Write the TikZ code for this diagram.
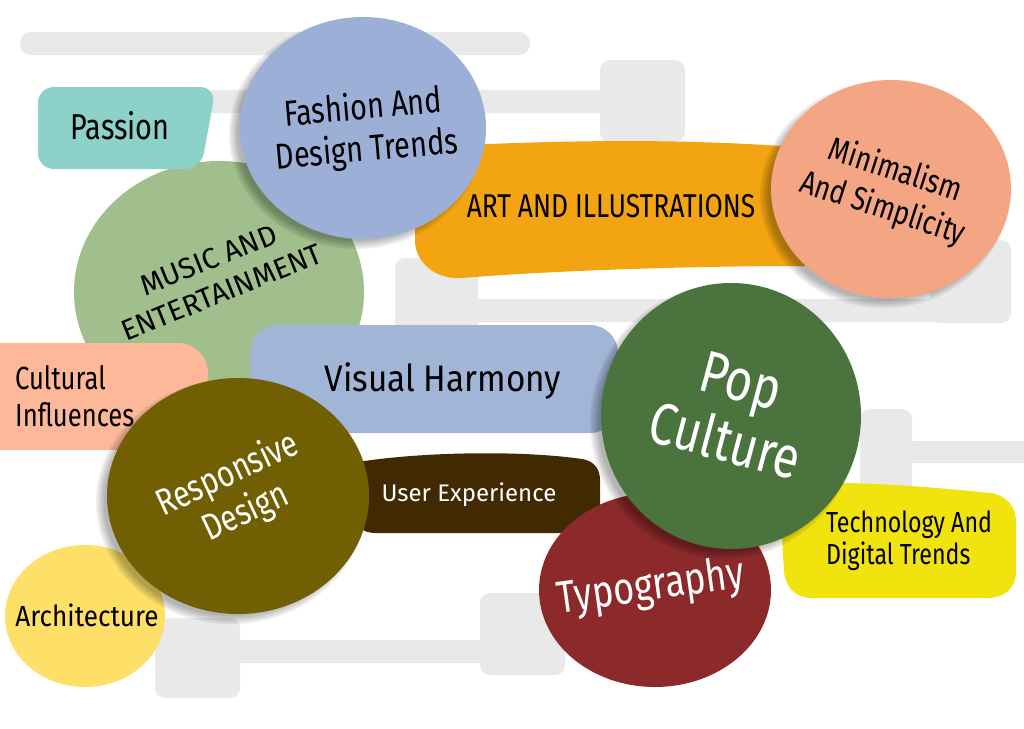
\documentclass[tikz,border=0pt]{standalone}
\usepackage{fontspec}
\setmainfont{Fira Sans}
\newfontfamily\fcond{Fira Sans}[FakeStretch=0.8]
\newfontfamily\fsemi{Fira Sans}[FakeStretch=0.9]
\usetikzlibrary{shapes.geometric}
\definecolor{bggrey}{HTML}{E9E9E9}
\definecolor{cpassion}{HTML}{8CD2CA}
\definecolor{cfashion}{HTML}{9CB0D7}
\definecolor{cmusic}{HTML}{A0BF8C}
\definecolor{cart}{HTML}{F2A412}
\definecolor{cmini}{HTML}{F3A584}
\definecolor{ccult}{HTML}{FDB899}
\definecolor{cvh}{HTML}{A1B5D7}
\definecolor{cpop}{HTML}{4A733E}
\definecolor{cresp}{HTML}{715F04}
\definecolor{cux}{HTML}{412A01}
\definecolor{carch}{HTML}{FEE068}
\definecolor{ctypo}{HTML}{8B292B}
\definecolor{ctech}{HTML}{F1E30E}
\tikzset{
  greybox/.style={fill=bggrey, rounded corners=10pt},
  greybar/.style={fill=bggrey, rounded corners=11pt},
  oval/.style={ellipse, inner sep=0pt, draw=none},
  shadowlayer/.style={fill=black, opacity=0.065},
  lbl/.style={inner sep=0pt, align=center, text=black},
  wlbl/.style={inner sep=0pt, align=center, text=white},
}
% soft shadow: centre x, centre y, radius x, radius y
\newcommand\softshadow[4]{%
  \foreach \d in {-4,-2,0,2,4}{%
    \path[shadowlayer] (#1-7,#2+6) ellipse ({#3+\d} and {#4+\d});
  }%
}
\begin{document}
\begin{tikzpicture}[x=1pt,y=-1pt]
\useasboundingbox (0,0) rectangle (1024,728);
\fill[white] (0,0) rectangle (1024,728);
\begin{scope}
\clip (0,0) rectangle (1024,728);
% background grey structure
\path[greybar] (20,32) rectangle (530,55);
\path[greybar] (60,90) rectangle (620,113);
\path[greybox] (600,60) rectangle (685,142);
\path[greybox] (395,258) rectangle (478,345);
\path[greybar] (460,299) rectangle (1000,322);
\path[greybox] (930,240) rectangle (1011,323);
\path[greybox] (860,409) rectangle (912,495);
\path[greybar] (900,441) rectangle (1040,463);
\path[greybox] (155,618) rectangle (240,698);
\path[greybar] (230,640) rectangle (490,663);
\path[greybox] (480,593) rectangle (565,675);

% Music and entertainment
\node[oval, fill=cmusic, minimum width=290pt, minimum height=262pt] (music) at (219,292) {};
\node[lbl, rotate=22, font=\fontsize{29}{35}\selectfont] (musicT) at (215,276) {MUSIC AND\\ENTERTAINMENT};

% Passion
\path[fill=cpassion, rounded corners=16pt] (38,87) -- (216,87) -- (201,169) -- (38,169) -- cycle;
\node[lbl, font=\fcond\fontsize{36}{42}\selectfont] (passionT) at (120,126) {Passion};

% Art and illustrations
\path[fill=cart] (415,190) .. controls (415,160) and (430,147) .. (465,145)
  .. controls (600,139) and (700,140) .. (795,147) -- (805,266)
  .. controls (700,266) and (560,270) .. (462,278)
  .. controls (435,280) and (415,262) .. (415,240) -- cycle;
\node[lbl, font=\fcond\fontsize{33}{38}\selectfont] (artT) at (611,206) {ART AND ILLUSTRATIONS};

% Fashion
\softshadow{363}{128}{123}{111}
\node[oval, fill=cfashion, minimum width=246pt, minimum height=222pt] (fashion) at (363,128) {};
\node[lbl, rotate=5, font=\fcond\fontsize{36}{42}\selectfont] (fashionT) at (365,130) {Fashion And\\Design Trends};

% Minimalism
\softshadow{891}{189}{120}{109}
\node[oval, fill=cmini, minimum width=240pt, minimum height=218pt] (mini) at (891,189) {};
\node[lbl, rotate=-18, font=\fcond\fontsize{33}{40}\selectfont] (miniT) at (889,190) {Minimalism\\And Simplicity};

% Cultural influences
\path[fill=ccult, rounded corners=30pt] (-40,343) -- (208,343) -- (208,450) -- (-40,450) -- cycle;
\node[lbl, align=left, anchor=west, font=\fcond\fontsize{32}{37}\selectfont] (cultT) at (15,396) {Cultural\\Influences};

% Visual harmony
\path[fill=cvh, rounded corners=28pt] (250,325) rectangle (618,433);
\node[lbl, font=\fsemi\fontsize{37}{42}\selectfont] (vhT) at (443,381) {Visual Harmony};

% User experience
\path[fill=cux] (358,462) .. controls (420,452) and (520,450) .. (582,459)
  .. controls (595,461) and (600,470) .. (600,480) -- (600,533) -- (375,533)
  .. controls (362,533) and (355,525) .. (355,515) -- cycle;
\node[wlbl, font=\fontsize{24}{28}\selectfont] (uxT) at (469,495) {User Experience};

% Architecture
\node[oval, fill=carch, minimum width=160pt, minimum height=142pt] (arch) at (85,616) {};
\node[lbl, font=\fsemi\fontsize{29}{34}\selectfont] (archT) at (87,615) {Architecture};

% Responsive design
\softshadow{238}{496}{131}{118}
\node[oval, fill=cresp, minimum width=262pt, minimum height=236pt] (resp) at (238,496) {};
\node[wlbl, rotate=25, font=\fcond\fontsize{37}{42}\selectfont] (respT) at (237,494) {Responsive\\Design};

% Technology
\path[fill=ctech] (790,484) .. controls (860,480) and (940,488) .. (990,493)
  .. controls (1006,495) and (1016,506) .. (1016,522) -- (1016,572)
  .. controls (1016,588) and (1004,598) .. (988,598) -- (812,598)
  .. controls (796,598) and (786,588) .. (784,572) -- (780,500) -- cycle;
\node[lbl, align=left, anchor=west, font=\fcond\fontsize{29}{32}\selectfont] (techT) at (826,541) {Technology And\\Digital Trends};

% Typography
\node[oval, fill=ctypo, minimum width=232pt, minimum height=194pt] (typo) at (655,590) {};
\node[wlbl, rotate=8, font=\fcond\fontsize{45}{50}\selectfont] (typoT) at (651,588) {Typography};

% Pop culture
\softshadow{731}{416}{130}{133}
\node[oval, fill=cpop, minimum width=260pt, minimum height=266pt] (pop) at (731,416) {};
\node[wlbl, rotate=-15, font=\fcond\fontsize{59}{62}\selectfont] (popT) at (733,411) {Pop\\Culture};
\end{scope}
\end{tikzpicture}
\end{document}
